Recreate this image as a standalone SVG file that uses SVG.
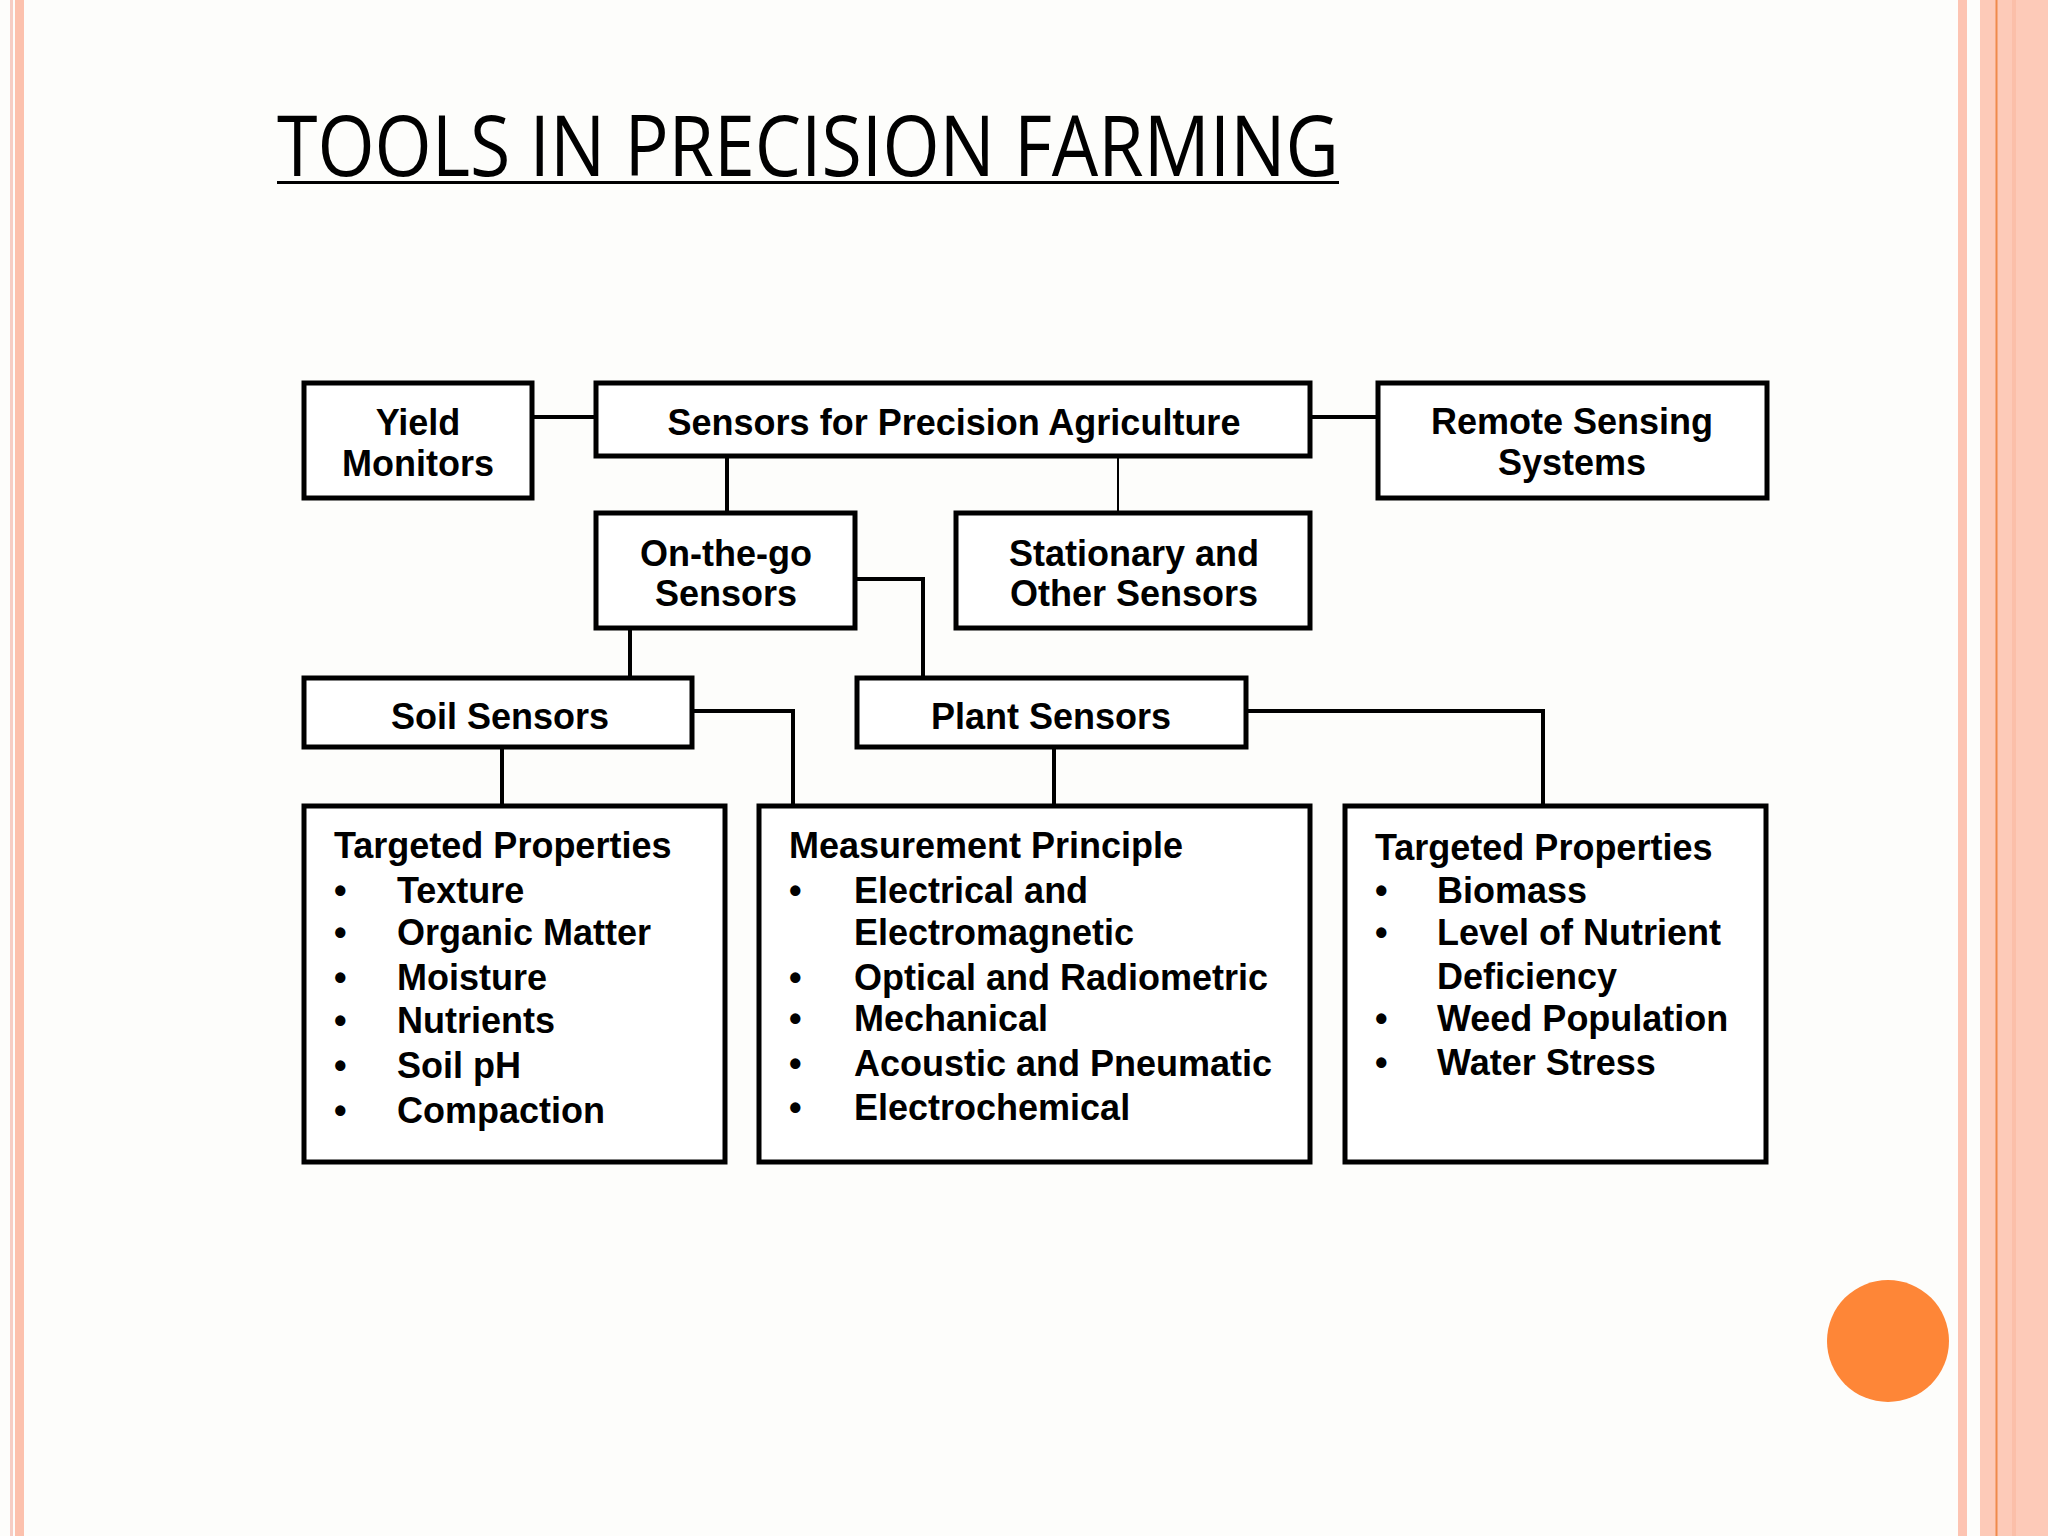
<svg xmlns="http://www.w3.org/2000/svg" width="2048" height="1536" viewBox="0 0 2048 1536">
<style>
.box{fill:#ffffff;stroke:#000;stroke-width:5}
.con{fill:none;stroke:#000;stroke-width:4}
.thin{fill:none;stroke:#000;stroke-width:2}
.t{font-family:"Liberation Sans",Arial,sans-serif;font-weight:bold;font-size:36px;fill:#000}
.c{text-anchor:middle}
</style>
<rect x="0" y="0" width="2048" height="1536" fill="#fdfdfb"/>
<rect x="10" y="0" width="3" height="1536" fill="#f6cdc4"/>
<rect x="15" y="0" width="9" height="1536" fill="#fcc1ad"/>
<rect x="1958" y="0" width="9" height="1536" fill="#fdc4b2"/>
<rect x="1980" y="0" width="68" height="1536" fill="#fdcab8"/>
<rect x="2012" y="0" width="4" height="1536" fill="#fbbfa9"/>
<rect x="1995.5" y="0" width="2" height="1536" fill="#f08a4b"/>
<circle cx="1888" cy="1341" r="61" fill="#fe8637"/>
<g id="title">
<text x="277" y="176" font-family="Open Sans, sans-serif" font-size="84" fill="#000" textLength="1062" lengthAdjust="spacingAndGlyphs">TOOLS IN PRECISION FARMING</text>
<rect x="277" y="181" width="1062" height="3" fill="#000"/>
</g>
<g id="connectors">
<line class="con" x1="532" y1="417" x2="596" y2="417"/>
<line class="con" x1="1310" y1="417" x2="1378" y2="417"/>
<line class="con" x1="727" y1="456" x2="727" y2="513"/>
<line class="thin" x1="1118" y1="456" x2="1118" y2="513"/>
<polyline class="con" points="855,579 923,579 923,678"/>
<line class="con" x1="630" y1="628" x2="630" y2="678"/>
<line class="con" x1="502" y1="747" x2="502" y2="806"/>
<polyline class="con" points="692,711 793,711 793,806"/>
<line class="con" x1="1054" y1="747" x2="1054" y2="806"/>
<polyline class="con" points="1246,711 1543,711 1543,806"/>
</g>
<g id="yield">
<rect class="box" x="304" y="383" width="228" height="115"/>
<text class="t c" x="418" y="435">Yield</text>
<text class="t c" x="418" y="476">Monitors</text>
</g>
<g id="sensors">
<rect class="box" x="596" y="383" width="714" height="73"/>
<text class="t c" x="954" y="435">Sensors for Precision Agriculture</text>
</g>
<g id="remote">
<rect class="box" x="1378" y="383" width="389" height="115"/>
<text class="t c" x="1572" y="434">Remote Sensing</text>
<text class="t c" x="1572" y="475">Systems</text>
</g>
<g id="onthego">
<rect class="box" x="596" y="513" width="259" height="115"/>
<text class="t c" x="726" y="566">On-the-go</text>
<text class="t c" x="726" y="606">Sensors</text>
</g>
<g id="stationary">
<rect class="box" x="956" y="513" width="354" height="115"/>
<text class="t c" x="1134" y="566">Stationary and</text>
<text class="t c" x="1134" y="606">Other Sensors</text>
</g>
<g id="soil">
<rect class="box" x="304" y="678" width="388" height="69"/>
<text class="t c" x="500" y="729">Soil Sensors</text>
</g>
<g id="plant">
<rect class="box" x="857" y="678" width="389" height="69"/>
<text class="t c" x="1051" y="729">Plant Sensors</text>
</g>
<g id="soilprops">
<rect class="box" x="304" y="806" width="421" height="356"/>
<text class="t" x="334" y="858">Targeted Properties</text>
<text class="t" x="334" y="903">•</text><text class="t" x="397" y="903">Texture</text>
<text class="t" x="334" y="945">•</text><text class="t" x="397" y="945">Organic Matter</text>
<text class="t" x="334" y="990">•</text><text class="t" x="397" y="990">Moisture</text>
<text class="t" x="334" y="1033">•</text><text class="t" x="397" y="1033">Nutrients</text>
<text class="t" x="334" y="1078">•</text><text class="t" x="397" y="1078">Soil pH</text>
<text class="t" x="334" y="1123">•</text><text class="t" x="397" y="1123">Compaction</text>
</g>
<g id="measurement">
<rect class="box" x="759" y="806" width="551" height="356"/>
<text class="t" x="789" y="858">Measurement Principle</text>
<text class="t" x="789" y="903">•</text><text class="t" x="854" y="903">Electrical and</text>
<text class="t" x="854" y="945">Electromagnetic</text>
<text class="t" x="789" y="990">•</text><text class="t" x="854" y="990">Optical and Radiometric</text>
<text class="t" x="789" y="1031">•</text><text class="t" x="854" y="1031">Mechanical</text>
<text class="t" x="789" y="1076">•</text><text class="t" x="854" y="1076">Acoustic and Pneumatic</text>
<text class="t" x="789" y="1120">•</text><text class="t" x="854" y="1120">Electrochemical</text>
</g>
<g id="plantprops">
<rect class="box" x="1345" y="806" width="421" height="356"/>
<text class="t" x="1375" y="860">Targeted Properties</text>
<text class="t" x="1375" y="903">•</text><text class="t" x="1437" y="903">Biomass</text>
<text class="t" x="1375" y="945">•</text><text class="t" x="1437" y="945">Level of Nutrient</text>
<text class="t" x="1437" y="989">Deficiency</text>
<text class="t" x="1375" y="1031">•</text><text class="t" x="1437" y="1031">Weed Population</text>
<text class="t" x="1375" y="1075">•</text><text class="t" x="1437" y="1075">Water Stress</text>
</g>
</svg>
